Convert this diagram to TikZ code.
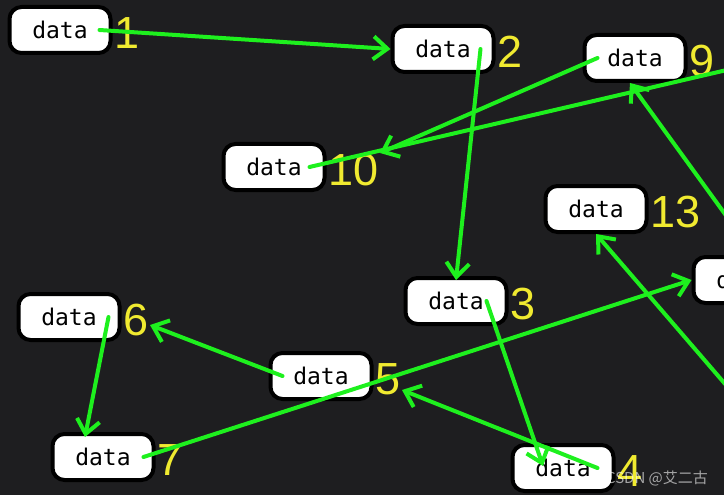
\documentclass[tikz,border=0pt]{standalone}
\usepackage{fontspec}
\newfontfamily\boxfont{DejaVu Sans Mono}
\newfontfamily\numfont{Liberation Sans}
\newfontfamily\cjkfont{Noto Sans CJK SC}
\usetikzlibrary{arrows.meta, positioning, calc}
\definecolor{bgdark}{RGB}{30,30,32}
\definecolor{linkgreen}{RGB}{30,240,30}
\definecolor{numyellow}{RGB}{240,234,48}

\begin{document}
\begin{tikzpicture}[x=1pt, y=-1pt, >={Straight Barb[length=14pt,width=23pt]},
    databox/.style={draw=black, line width=4pt, fill=white, rounded corners=12pt, minimum width=101pt, minimum height=46pt, inner sep=0pt, font=\boxfont\fontsize{23}{23}\selectfont},
    numlabel/.style={anchor=west, inner sep=0pt, text=numyellow, font=\numfont\fontsize{45}{45}\selectfont},
    link/.style={->, draw=linkgreen, line width=4pt, line cap=round}]

      % --- Canvas ---
      \useasboundingbox (0,0) rectangle (724,495);
      \fill[bgdark] (0,0) rectangle (724,495);
      \clip (0,0) rectangle (724,495);

      % --- Data Boxes (scattered in memory) ---
      \foreach \id/\px/\py in {1/60/30, 2/443/49, 3/456/301, 4/563/468, 5/321/376, 6/69/317, 7/103/457, 8/744/280, 9/635/58, 10/274/167, 13/596/209} {
        \node[databox] (b\id) at (\px,\py) {data};
      }

      % --- Index Labels ---
      \foreach \id in {1,2,3,4,5,6,7,9,10,13} {
        \node[numlabel] (l\id) at ([xshift=2pt,yshift=-3pt]b\id.east) {\id};
      }

      % --- Free Ends of the Links ---
      \coordinate (t4) at (543,466);
      \coordinate (t5) at (402,390);
      \coordinate (t6) at (150,325);
      \coordinate (t7) at (85,437);
      \coordinate (t10) at (380,153);
      \coordinate (s8) at (780,290);
      \coordinate (n11) at (800,53);
      \coordinate (s12) at (800,471);

      % --- Next Pointers ---
      \draw[link] ([xshift=-13pt]b1.east) -- (b2.west);
      \draw[link] ([xshift=-15pt]b2.east) -- ([yshift=-4pt]b3.north);
      \draw[link] ([xshift=-22pt]b3.east) -- (t4);
      \draw[link] ([xshift=-18pt]b4.east) -- (t5);
      \draw[link] ([xshift=14pt]b5.west) -- (t6);
      \draw[link] ([xshift=-13pt]b6.east) -- (t7);
      \draw[link] ([xshift=-12pt]b7.east) -- (b8.west);
      \draw[link] (s8) -- ([xshift=-5pt]b9.south);
      \draw[link] ([xshift=15pt]b9.west) -- (t10);
      \draw[link] ([xshift=-17pt]b10.east) -- (n11);
      \draw[link] (s12) -- (b13.south);

      % --- Watermark ---
      \node[text=white, opacity=0.6, inner sep=0pt, font=\cjkfont\fontsize{15}{15}\selectfont] (mark) at (657,478) {CSDN @艾二古};

    \end{tikzpicture}
\end{document}
